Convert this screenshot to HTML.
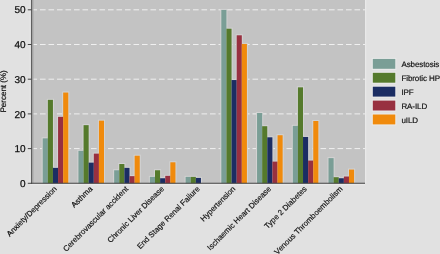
<!DOCTYPE html><html><head><meta charset="utf-8"><style>
html,body{margin:0;padding:0;background:#e1e1e1;}
body{width:440px;height:254px;overflow:hidden;}
svg{display:block;}
text{text-rendering:geometricPrecision;font-family:'Liberation Sans', Arial, Helvetica, sans-serif;fill:#111;stroke:#111;stroke-width:0.18px;}
</style></head><body>
<svg width="440" height="254" viewBox="0 0 440 254">
<rect x="0" y="0" width="440" height="254" fill="#e1e1e1"/>
<rect x="31.90" y="0" width="333.10" height="183.30" fill="#c3c3c3"/>
<rect x="365.00" y="0" width="1.2" height="183.30" fill="#e9e9e9"/>
<rect x="29.80" y="183.90" width="335.20" height="1.3" fill="#e9e9e9"/>
<line x1="31.5" y1="148.60" x2="365.00" y2="148.60" stroke="#f0f0f0" stroke-width="1.0" stroke-dasharray="5.6 2.9"/>
<line x1="31.5" y1="113.90" x2="365.00" y2="113.90" stroke="#f0f0f0" stroke-width="1.0" stroke-dasharray="5.6 2.9"/>
<line x1="31.5" y1="79.20" x2="365.00" y2="79.20" stroke="#f0f0f0" stroke-width="1.0" stroke-dasharray="5.6 2.9"/>
<line x1="31.5" y1="44.50" x2="365.00" y2="44.50" stroke="#f0f0f0" stroke-width="1.0" stroke-dasharray="5.6 2.9"/>
<line x1="31.5" y1="9.80" x2="365.00" y2="9.80" stroke="#f0f0f0" stroke-width="1.0" stroke-dasharray="5.6 2.9"/>
<rect x="41.70" y="137.34" width="7.12" height="45.96" fill="#d3d3d3"/>
<rect x="46.82" y="98.82" width="7.12" height="84.48" fill="#d3d3d3"/>
<rect x="51.94" y="166.84" width="7.12" height="16.46" fill="#d3d3d3"/>
<rect x="57.06" y="115.83" width="7.12" height="67.47" fill="#d3d3d3"/>
<rect x="62.18" y="91.54" width="7.12" height="91.76" fill="#d3d3d3"/>
<rect x="77.43" y="149.83" width="7.12" height="33.47" fill="#d3d3d3"/>
<rect x="82.55" y="124.15" width="7.12" height="59.15" fill="#d3d3d3"/>
<rect x="87.67" y="161.63" width="7.12" height="21.67" fill="#d3d3d3"/>
<rect x="92.79" y="152.61" width="7.12" height="30.69" fill="#d3d3d3"/>
<rect x="97.91" y="119.64" width="7.12" height="63.66" fill="#d3d3d3"/>
<rect x="113.15" y="169.26" width="7.12" height="14.04" fill="#d3d3d3"/>
<rect x="118.27" y="163.02" width="7.12" height="20.28" fill="#d3d3d3"/>
<rect x="123.39" y="166.84" width="7.12" height="16.46" fill="#d3d3d3"/>
<rect x="128.51" y="175.16" width="7.12" height="8.14" fill="#d3d3d3"/>
<rect x="133.63" y="154.69" width="7.12" height="28.61" fill="#d3d3d3"/>
<rect x="148.88" y="175.86" width="7.12" height="7.44" fill="#d3d3d3"/>
<rect x="154.00" y="169.26" width="7.12" height="14.04" fill="#d3d3d3"/>
<rect x="159.12" y="177.25" width="7.12" height="6.05" fill="#d3d3d3"/>
<rect x="164.24" y="174.82" width="7.12" height="8.48" fill="#d3d3d3"/>
<rect x="169.35" y="161.28" width="7.12" height="22.02" fill="#d3d3d3"/>
<rect x="184.60" y="175.86" width="7.12" height="7.44" fill="#d3d3d3"/>
<rect x="189.72" y="175.86" width="7.12" height="7.44" fill="#d3d3d3"/>
<rect x="194.84" y="176.90" width="7.12" height="6.40" fill="#d3d3d3"/>
<rect x="220.32" y="8.95" width="7.12" height="174.35" fill="#d3d3d3"/>
<rect x="225.44" y="27.69" width="7.12" height="155.61" fill="#d3d3d3"/>
<rect x="230.56" y="79.04" width="7.12" height="104.26" fill="#d3d3d3"/>
<rect x="235.69" y="34.28" width="7.12" height="149.02" fill="#d3d3d3"/>
<rect x="240.80" y="42.96" width="7.12" height="140.34" fill="#d3d3d3"/>
<rect x="256.05" y="112.01" width="7.12" height="71.29" fill="#d3d3d3"/>
<rect x="261.17" y="125.20" width="7.12" height="58.11" fill="#d3d3d3"/>
<rect x="266.29" y="136.30" width="7.12" height="47.00" fill="#d3d3d3"/>
<rect x="271.41" y="160.59" width="7.12" height="22.71" fill="#d3d3d3"/>
<rect x="276.53" y="134.22" width="7.12" height="49.08" fill="#d3d3d3"/>
<rect x="291.78" y="124.85" width="7.12" height="58.45" fill="#d3d3d3"/>
<rect x="296.90" y="86.33" width="7.12" height="96.97" fill="#d3d3d3"/>
<rect x="302.02" y="135.95" width="7.12" height="47.35" fill="#d3d3d3"/>
<rect x="307.14" y="159.55" width="7.12" height="23.75" fill="#d3d3d3"/>
<rect x="312.26" y="119.99" width="7.12" height="63.31" fill="#d3d3d3"/>
<rect x="327.50" y="157.12" width="7.12" height="26.18" fill="#d3d3d3"/>
<rect x="332.62" y="176.20" width="7.12" height="7.10" fill="#d3d3d3"/>
<rect x="337.74" y="177.25" width="7.12" height="6.05" fill="#d3d3d3"/>
<rect x="342.86" y="175.51" width="7.12" height="7.79" fill="#d3d3d3"/>
<rect x="347.98" y="168.57" width="7.12" height="14.73" fill="#d3d3d3"/>
<rect x="42.70" y="138.34" width="5.12" height="44.96" fill="#7a9e96"/>
<rect x="47.82" y="99.82" width="5.12" height="83.48" fill="#557a2c"/>
<rect x="52.94" y="167.84" width="5.12" height="15.46" fill="#1b2d63"/>
<rect x="58.06" y="116.83" width="5.12" height="66.47" fill="#983040"/>
<rect x="63.18" y="92.54" width="5.12" height="90.76" fill="#f08a0c"/>
<rect x="78.43" y="150.83" width="5.12" height="32.47" fill="#7a9e96"/>
<rect x="83.55" y="125.15" width="5.12" height="58.15" fill="#557a2c"/>
<rect x="88.67" y="162.63" width="5.12" height="20.67" fill="#1b2d63"/>
<rect x="93.79" y="153.61" width="5.12" height="29.69" fill="#983040"/>
<rect x="98.91" y="120.64" width="5.12" height="62.66" fill="#f08a0c"/>
<rect x="114.15" y="170.26" width="5.12" height="13.04" fill="#7a9e96"/>
<rect x="119.27" y="164.02" width="5.12" height="19.28" fill="#557a2c"/>
<rect x="124.39" y="167.84" width="5.12" height="15.46" fill="#1b2d63"/>
<rect x="129.51" y="176.16" width="5.12" height="7.14" fill="#983040"/>
<rect x="134.63" y="155.69" width="5.12" height="27.61" fill="#f08a0c"/>
<rect x="149.88" y="176.86" width="5.12" height="6.44" fill="#7a9e96"/>
<rect x="155.00" y="170.26" width="5.12" height="13.04" fill="#557a2c"/>
<rect x="160.12" y="178.25" width="5.12" height="5.05" fill="#1b2d63"/>
<rect x="165.24" y="175.82" width="5.12" height="7.48" fill="#983040"/>
<rect x="170.35" y="162.28" width="5.12" height="21.02" fill="#f08a0c"/>
<rect x="185.60" y="176.86" width="5.12" height="6.44" fill="#7a9e96"/>
<rect x="190.72" y="176.86" width="5.12" height="6.44" fill="#557a2c"/>
<rect x="195.84" y="177.90" width="5.12" height="5.40" fill="#1b2d63"/>
<rect x="221.32" y="9.95" width="5.12" height="173.35" fill="#7a9e96"/>
<rect x="226.44" y="28.69" width="5.12" height="154.61" fill="#557a2c"/>
<rect x="231.56" y="80.04" width="5.12" height="103.26" fill="#1b2d63"/>
<rect x="236.69" y="35.28" width="5.12" height="148.02" fill="#983040"/>
<rect x="241.80" y="43.96" width="5.12" height="139.34" fill="#f08a0c"/>
<rect x="257.05" y="113.01" width="5.12" height="70.29" fill="#7a9e96"/>
<rect x="262.17" y="126.20" width="5.12" height="57.11" fill="#557a2c"/>
<rect x="267.29" y="137.30" width="5.12" height="46.00" fill="#1b2d63"/>
<rect x="272.41" y="161.59" width="5.12" height="21.71" fill="#983040"/>
<rect x="277.53" y="135.22" width="5.12" height="48.08" fill="#f08a0c"/>
<rect x="292.78" y="125.85" width="5.12" height="57.45" fill="#7a9e96"/>
<rect x="297.90" y="87.33" width="5.12" height="95.97" fill="#557a2c"/>
<rect x="303.02" y="136.95" width="5.12" height="46.35" fill="#1b2d63"/>
<rect x="308.14" y="160.55" width="5.12" height="22.75" fill="#983040"/>
<rect x="313.26" y="120.99" width="5.12" height="62.31" fill="#f08a0c"/>
<rect x="328.50" y="158.12" width="5.12" height="25.18" fill="#7a9e96"/>
<rect x="333.62" y="177.20" width="5.12" height="6.10" fill="#557a2c"/>
<rect x="338.74" y="178.25" width="5.12" height="5.05" fill="#1b2d63"/>
<rect x="343.86" y="176.51" width="5.12" height="6.79" fill="#983040"/>
<rect x="348.98" y="169.57" width="5.12" height="13.73" fill="#f08a0c"/>
<rect x="29.8" y="0" width="0.9" height="183.30" fill="#ebebeb"/>
<rect x="32" y="0" width="1.5" height="183.30" fill="#a8a8a8"/>
<line x1="31.5" y1="0" x2="31.5" y2="183.80" stroke="#606060" stroke-width="1.1"/>
<line x1="31" y1="183.30" x2="365.00" y2="183.30" stroke="#444" stroke-width="1.1"/>
<line x1="27.8" y1="183.30" x2="31.5" y2="183.30" stroke="#444" stroke-width="1"/>
<text x="25.6" y="186.90" font-size="10" text-anchor="end" style="stroke-width:0.25px">0</text>
<line x1="27.8" y1="148.60" x2="31.5" y2="148.60" stroke="#444" stroke-width="1"/>
<text x="25.6" y="152.20" font-size="10" text-anchor="end" style="stroke-width:0.25px">10</text>
<line x1="27.8" y1="113.90" x2="31.5" y2="113.90" stroke="#444" stroke-width="1"/>
<text x="25.6" y="117.50" font-size="10" text-anchor="end" style="stroke-width:0.25px">20</text>
<line x1="27.8" y1="79.20" x2="31.5" y2="79.20" stroke="#444" stroke-width="1"/>
<text x="25.6" y="82.80" font-size="10" text-anchor="end" style="stroke-width:0.25px">30</text>
<line x1="27.8" y1="44.50" x2="31.5" y2="44.50" stroke="#444" stroke-width="1"/>
<text x="25.6" y="48.10" font-size="10" text-anchor="end" style="stroke-width:0.25px">40</text>
<line x1="27.8" y1="9.80" x2="31.5" y2="9.80" stroke="#444" stroke-width="1"/>
<text x="25.6" y="13.40" font-size="10" text-anchor="end" style="stroke-width:0.25px">50</text>
<text transform="translate(5.8,91.4) rotate(-90)" font-size="8" text-anchor="middle">Percent (%)</text>
<text transform="translate(57.30,189.40) rotate(-45)" font-size="7.8" text-anchor="end">Anxiety/Depression</text>
<text transform="translate(93.03,189.40) rotate(-45)" font-size="7.8" text-anchor="end">Asthma</text>
<text transform="translate(128.75,189.40) rotate(-45)" font-size="7.8" text-anchor="end">Cerebrovascular accident</text>
<text transform="translate(164.48,189.40) rotate(-45)" font-size="7.8" text-anchor="end">Chronic Liver Disease</text>
<text transform="translate(200.20,189.40) rotate(-45)" font-size="7.8" text-anchor="end">End Stage Renal Failure</text>
<text transform="translate(235.93,189.40) rotate(-45)" font-size="7.8" text-anchor="end">Hypertension</text>
<text transform="translate(271.65,189.40) rotate(-45)" font-size="7.8" text-anchor="end">Ischaemic Heart Disease</text>
<text transform="translate(307.38,189.40) rotate(-45)" font-size="7.8" text-anchor="end">Type 2 Diabetes</text>
<text transform="translate(343.10,189.40) rotate(-45)" font-size="7.8" text-anchor="end">Venous Thromboembolism</text>
<rect x="371.8" y="57.90" width="24.5" height="11.9" fill="#ececec"/>
<rect x="372.8" y="58.90" width="22.5" height="9.9" fill="#7a9e96"/>
<text x="401.4" y="66.90" font-size="8" letter-spacing="-0.08">Asbestosis</text>
<rect x="371.8" y="71.80" width="24.5" height="11.9" fill="#ececec"/>
<rect x="372.8" y="72.80" width="22.5" height="9.9" fill="#557a2c"/>
<text x="401.4" y="80.80" font-size="8" letter-spacing="-0.08">Fibrotic HP</text>
<rect x="371.8" y="85.70" width="24.5" height="11.9" fill="#ececec"/>
<rect x="372.8" y="86.70" width="22.5" height="9.9" fill="#1b2d63"/>
<text x="401.4" y="94.70" font-size="8" letter-spacing="-0.08">IPF</text>
<rect x="371.8" y="99.60" width="24.5" height="11.9" fill="#ececec"/>
<rect x="372.8" y="100.60" width="22.5" height="9.9" fill="#983040"/>
<text x="401.4" y="108.60" font-size="8" letter-spacing="-0.08">RA-ILD</text>
<rect x="371.8" y="113.50" width="24.5" height="11.9" fill="#ececec"/>
<rect x="372.8" y="114.50" width="22.5" height="9.9" fill="#f08a0c"/>
<text x="401.4" y="122.50" font-size="8" letter-spacing="-0.08">uILD</text>
</svg></body></html>
